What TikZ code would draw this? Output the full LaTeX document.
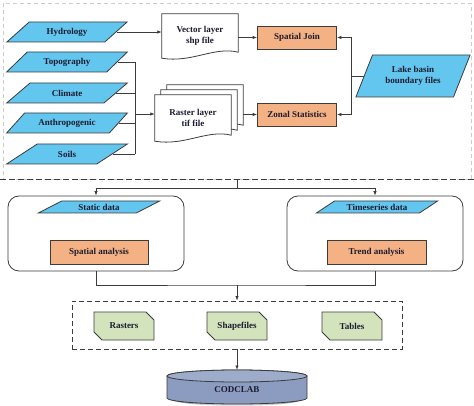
\documentclass[tikz,border=0pt]{standalone}
\usepackage{fontspec}
\setmainfont{Liberation Serif}
\usetikzlibrary{shapes.geometric,shapes.misc,arrows.meta}

\definecolor{paraBlue}{HTML}{62C6EE}
\definecolor{boxOrange}{HTML}{F4B183}
\definecolor{fileGreen}{HTML}{D3E4BD}
\definecolor{dbBody}{HTML}{8C9CC0}
\definecolor{dbTop}{HTML}{9DACCB}
\definecolor{lineGray}{HTML}{3C3C3C}
\definecolor{textDark}{HTML}{1B1B2F}

\tikzset{
  flow/.style={draw=lineGray, line width=0.8pt},
  arr/.style={flow, -{Latex[length=4.5pt,width=3.5pt]}},
  layer/.style={trapezium, trapezium stretches=true,
    trapezium left angle=39, trapezium right angle=141,
    draw=lineGray, line width=0.8pt, fill=paraBlue,
    minimum width=121pt, minimum height=20pt, inner sep=1pt, align=center},
  datalayer/.style={layer, trapezium left angle=26, trapezium right angle=154,
    minimum width=122pt, minimum height=12pt, inner sep=0pt},
  task/.style={rectangle, draw=lineGray, line width=0.8pt, fill=boxOrange, inner sep=1pt},
  docbox/.style={rectangle, fill=white, minimum width=76pt, minimum height=46pt,
    inner sep=1pt, align=center},
  stage/.style={rectangle, rounded corners=11pt, draw=lineGray, line width=0.8pt,
    minimum width=176pt, minimum height=75pt},
  product/.style={chamfered rectangle, chamfered rectangle corners={north east,south west},
    chamfered rectangle xsep=4pt, chamfered rectangle ysep=4pt,
    draw=lineGray, line width=0.8pt, fill=fileGreen,
    minimum width=60pt, minimum height=28pt, inner sep=1pt}
}

% outline of a document sheet with a wavy lower edge
\newcommand{\docshape}[1]{%
  \draw[flow] (#1.north west) -- (#1.north east) -- ([yshift=6pt]#1.south east)
    .. controls ([xshift=-24pt,yshift=12pt]#1.south east) and ([xshift=30pt,yshift=-5pt]#1.south west) .. (#1.south west) -- cycle;}

\begin{document}
\begin{tikzpicture}[x=1pt, y=1pt,
  every node/.append style={font=\fontsize{9}{11}\selectfont\bfseries, text=textDark}]
\useasboundingbox (0,0) rectangle (474,-406);

% preprocessing frame
\draw[gray!40, dash pattern=on 4pt off 3pt] (3,-3) rectangle (471,-179);
\draw[lineGray, dash pattern=on 6pt off 3pt] (0,-179) -- (474,-179);

% input layers
\node[layer] (hydro) at (67,-32) {Hydrology};
\node[layer] (topo) at (67,-62) {Topography};
\node[layer] (climate) at (67,-93) {Climate};
\node[layer] (anthro) at (67,-123) {Anthropogenic};
\node[layer] (soils) at (67,-154) {Soils};

% vector and raster files
\node[docbox, minimum height=44pt] (vector) at (200,-36) {Vector layer\\shp file};
\docshape{vector}
\foreach \k/\dx in {3/12, 2/6}
 {
 \node[docbox] (raster\k) at (193+\dx,-118+\dx*5/6) {};
 \docshape{raster\k}
 }
\node[docbox] (raster1) at (193,-118) {Raster layer\\tif file};
\docshape{raster1}

% processing
\node[task, minimum width=79pt, minimum height=23pt] (join) at (297,-37.5) {Spatial Join};
\node[task, minimum width=79pt, minimum height=23pt] (zonal) at (297,-114.5) {Zonal Statistics};
\node[layer, trapezium left angle=61, trapezium right angle=119,
  minimum width=115pt, minimum height=42pt] (lake) at (413,-76) {Lake basin\\boundary files};

\coordinate (layerbus) at (135,-114);
\coordinate (lakebus) at (351,-76);

\draw[arr] (hydro.east) -- (hydro.east -| vector.west);
\foreach \n in {topo, climate, anthro, soils}
  \draw[flow] (\n.east) -- (\n.east -| layerbus);
\draw[flow] (topo.east -| layerbus) -- (soils.east -| layerbus);
\draw[arr] (layerbus) -- (layerbus -| raster1.west);
\draw[arr] (join.west -| vector.east) -- (join.west);
\draw[arr] (zonal.west -| raster3.east) -- (zonal.west);
\draw[flow] (lake.west) -- (lakebus);
\draw[arr] (lakebus) |- (join.east);
\draw[arr] (lakebus) |- (zonal.east);

% analysis stages
\node[stage] (static) at (96,-233.5) {};
\node[stage] (series) at (375,-233.5) {};
\node[datalayer] (staticdata) at (99,-207) {Static data};
\node[datalayer] (seriesdata) at (377,-207) {Timeseries data};
\node[task, minimum width=98pt, minimum height=24pt] (spatial) at (99,-252) {Spatial analysis};
\node[task, minimum width=99pt, minimum height=24pt] (trend) at (376.5,-252) {Trend analysis};

\coordinate (sepmid) at (237,-179);
\coordinate (split) at (237,-188);
\coordinate (merge) at (237,-285);
\draw[flow] (sepmid) -- (split);
\draw[arr] (split) -| (static.north);
\draw[arr] (split) -| (series.north);
\draw[flow] (static.south) |- (merge) -| (series.south);

% products
\node[draw=lineGray, line width=0.8pt, dash pattern=on 5pt off 3pt,
  minimum width=330pt, minimum height=48pt] (products) at (237,-325) {};
\foreach \n/\x/\t in {rasters/124/Rasters, shapes/237/Shapefiles, tables/352/Tables}
  \node[product] (\n) at (\x,-326) {\t};
\draw[arr] (merge) -- (products.north);

% database
\shade[top color=black!70, bottom color=white] (172,-399) -- (302,-399)
  arc[start angle=0, end angle=-180, x radius=65, y radius=7] -- cycle;
\filldraw[flow, fill=dbBody] (167,-376) -- (167,-398)
  arc[start angle=180, end angle=360, x radius=70, y radius=6] -- (307,-376)
  arc[start angle=0, end angle=180, x radius=70, y radius=6] -- cycle;
\filldraw[flow, fill=dbTop] (237,-376) ellipse[x radius=70, y radius=6];
\node (db) at (237,-390) {CODCLAB};
\coordinate (dbtop) at (237,-370);
\draw[arr] (products.south) -- (dbtop);

\end{tikzpicture}
\end{document}
